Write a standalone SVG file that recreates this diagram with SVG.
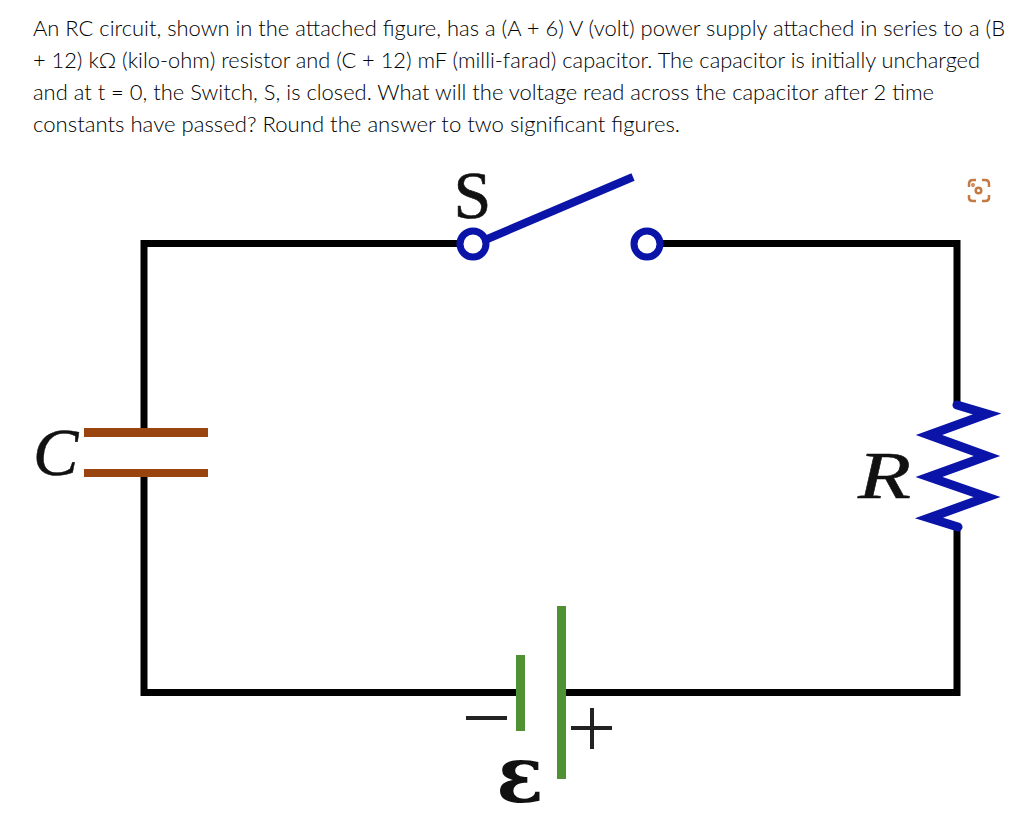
<svg xmlns="http://www.w3.org/2000/svg" width="1024" height="833" viewBox="0 0 1024 833">
<style>
.q{font-family:"Lato","Noto Sans",sans-serif;font-weight:300;font-size:21.5px;fill:#000}
.m{font-family:"Liberation Serif",serif;fill:#111}
.w{fill:none;stroke:#000;stroke-width:7}
.b{stroke:#0b14a8;fill:none}
.g{fill:#4f9133}
.c{fill:#9a4510}
</style>
<rect width="1024" height="833" fill="#fff"/>
<g id="question">
<text class="q" x="33" y="36" textLength="972" lengthAdjust="spacingAndGlyphs">An RC circuit, shown in the attached figure, has a (A + 6) V (volt) power supply attached in series to a (B</text>
<text class="q" x="33" y="68" textLength="947" lengthAdjust="spacingAndGlyphs">+ 12) kΩ (kilo-ohm) resistor and (C + 12) mF (milli-farad) capacitor. The capacitor is initially uncharged</text>
<text class="q" x="33" y="100" textLength="901" lengthAdjust="spacingAndGlyphs">and at t = 0, the Switch, S, is closed. What will the voltage read across the capacitor after 2 time</text>
<text class="q" x="33" y="132" textLength="647" lengthAdjust="spacingAndGlyphs">constants have passed? Round the answer to two significant figures.</text>
</g>
<g id="connectors">
<path class="w" d="M473 243.500H144V432"/>
<path class="w" d="M144 473V692.500H520"/>
<path class="w" d="M647 243.500H957V406"/>
<path class="w" d="M957 526V692.500H562"/>
</g>
<g id="switch">
<path class="b" stroke-width="8" d="M485 240L633 177"/>
<circle class="b" cx="473" cy="244" r="13" stroke-width="7" style="fill:#fff"/>
<circle class="b" cx="647" cy="244" r="13" stroke-width="7" style="fill:#fff"/>
<text class="m" x="472.500" y="218" font-size="68" text-anchor="middle" stroke="#111" stroke-width="0.6">S</text>
</g>
<g id="capacitor">
<rect x="84" y="428" width="124" height="9" class="c"/>
<rect x="84" y="469" width="124" height="8" class="c"/>
<text class="m" x="33" y="475" font-size="68" font-style="italic" stroke="#111" stroke-width="0.5">C</text>
</g>
<g id="resistor">
<path class="b" stroke-linejoin="miter" stroke-miterlimit="10" stroke-width="9" d="M957 405L987 414L929 435L987 456L929 477L987 497L929 518L958 527" style="stroke-linecap:round"/>
<text class="m" x="858" y="498" font-size="68" font-style="italic" textLength="53" lengthAdjust="spacingAndGlyphs" stroke="#111" stroke-width="0.5">R</text>
</g>
<g id="battery">
<rect x="516" y="655" width="9" height="76" class="g"/>
<rect x="557" y="606" width="9" height="173" class="g"/>
<rect x="466" y="716" width="41" height="4" fill="#222"/>
<rect x="571" y="726" width="41" height="4" fill="#222"/>
<rect x="590" y="708" width="4" height="41" fill="#222"/>
<text x="520" y="802" font-family="DejaVu Serif, serif" fill="#111" font-size="78" font-weight="bold" text-anchor="middle">ε</text>
</g>
<g id="scan-icon" fill="none" stroke="#c47a45" stroke-width="2.500">
<path d="M969 187V184Q969 180 973 180H976M982 180H985Q989 180 989 184V187M969 195V198Q969 201 973 201H976M982 201H985Q989 201 989 198V195"/>
<circle cx="978.500" cy="190.500" r="2.800"/>
<circle cx="973" cy="185" r="0.700"/>
</g>
</svg>
